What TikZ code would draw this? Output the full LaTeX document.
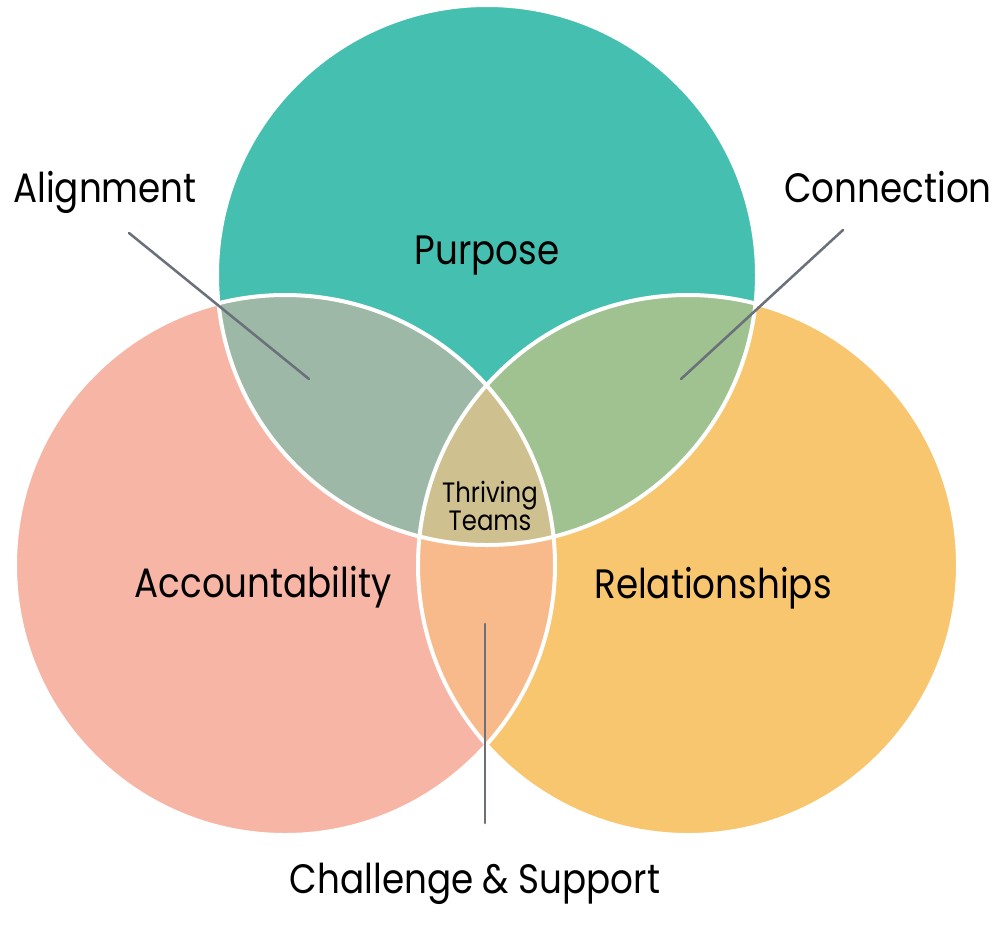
\documentclass[tikz,border=0pt]{standalone}
\usepackage{fontspec}
\setmainfont{Poppins}[FakeStretch=0.87]
\definecolor{cTeal}{HTML}{45BFB0}
\definecolor{cSalmon}{HTML}{F7B5A5}
\definecolor{cYellow}{HTML}{F9C670}
\definecolor{cTS}{HTML}{9EB8A8}
\definecolor{cTY}{HTML}{A0C290}
\definecolor{cSY}{HTML}{F8BA8A}
\definecolor{cMid}{HTML}{CEC08F}
\definecolor{lineGray}{HTML}{6B717A}
\begin{document}
\begin{tikzpicture}[x=0.75pt,y=-0.75pt,
  lbl/.style={font=\fontsize{30.8}{36}\selectfont, anchor=base, inner sep=0pt, text=black},
  smalllbl/.style={font=\fontsize{21}{17.25}\selectfont, anchor=center, inner sep=0pt, align=center, text=black},
  conn/.style={draw=lineGray, line width=1.9pt, line cap=round},
  ring/.style={draw=white, line width=3pt}]
\useasboundingbox (0,0) rectangle (1000,940);
\coordinate (T) at (487,275);
\coordinate (L) at (285,565);
\coordinate (R) at (688,565);
\def\rad{202.5pt}
% base circles
\fill[cTeal] (T) circle[radius=\rad];
\fill[cSalmon] (L) circle[radius=\rad];
\fill[cYellow] (R) circle[radius=\rad];
% pairwise overlaps
\begin{scope}
  \clip (T) circle[radius=\rad];
  \fill[cTS] (L) circle[radius=\rad];
  \fill[cTY] (R) circle[radius=\rad];
\end{scope}
\begin{scope}
  \clip (L) circle[radius=\rad];
  \fill[cSY] (R) circle[radius=\rad];
\end{scope}
\begin{scope}
  \clip (T) circle[radius=\rad];
  \clip (L) circle[radius=\rad];
  \fill[cMid] (R) circle[radius=\rad];
\end{scope}
% white outlines
\draw[ring] (T) circle[radius=\rad];
\draw[ring] (L) circle[radius=\rad];
\draw[ring] (R) circle[radius=\rad];
% labels
\node[lbl] (purpose) at (487,264) {Purpose};
\node[lbl] (account) at (263,597) {Accountability};
\node[lbl] (relat) at (713,598) {Relationships};
\node[lbl] (align) at (105,202) {Alignment};
\node[lbl] (connect) at (888,202) {Connection};
\node[lbl] (chall) at (475,893) {Challenge \& Support};
\node[smalllbl] (thriving) at (490,506) {Thriving\\Teams};
% connectors
\coordinate (a1) at (129,233);
\coordinate (a2) at (309,379);
\coordinate (c1) at (843,230);
\coordinate (c2) at (681,379);
\coordinate (s1) at (485,624);
\coordinate (s2) at (485,823);
\draw[conn] (a1) -- (a2);
\draw[conn] (c1) -- (c2);
\draw[conn] (s1) -- (s2);
\end{tikzpicture}
\end{document}
